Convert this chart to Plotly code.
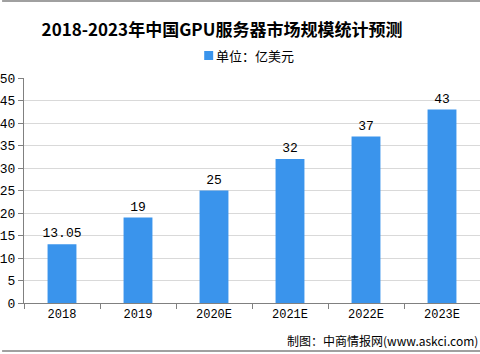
import plotly.graph_objects as go

categories = ["2018", "2019", "2020E", "2021E", "2022E", "2023E"]
values = [13.05, 19, 25, 32, 37, 43]
labels = ["13.05", "19", "25", "32", "37", "43"]
series_name = "单位：亿美元"
title = "2018-2023年中国GPU服务器市场规模统计预测"
source = "制图：中商情报网(www.askci.com)"

W, H = 480, 354
ml, mr, mt, mb = 22, 0, 78, 51
pw = W - ml - mr
ph = H - mt - mb
BLUE = "#3A94EC"

def py(pix):
    return (H - mb - pix) / ph

def px(pix):
    return (pix - ml) / pw

fig = go.Figure()
fig.add_trace(go.Bar(
    x=categories, y=values, name=series_name,
    marker=dict(color=BLUE, line=dict(width=0)),
    text=labels, textposition="outside", textangle=0, constraintext="none",
    textfont=dict(family="Liberation Mono, DejaVu Sans Mono", size=13, color="#000000"),
    cliponaxis=False, showlegend=False,
))

fig.update_layout(
    width=W, height=H,
    margin=dict(l=ml, r=mr, t=mt, b=mb),
    paper_bgcolor="white", plot_bgcolor="white",
    bargap=0.62,
    showlegend=False,
    title=dict(text="<b>" + title + "</b>", x=222 / W, xanchor="center", y=1 - 30 / H, yanchor="middle",
               font=dict(family="Noto Sans CJK SC", size=17, color="#000000")),
    font=dict(family="Liberation Mono, DejaVu Sans Mono", size=13, color="#000000"),
)

fig.update_xaxes(
    type="category", showline=True, linecolor="#808080", linewidth=1,
    ticks="outside", tickson="boundaries", ticklen=5, tickcolor="#808080",
    showgrid=False,
    tickfont=dict(family="Liberation Mono, DejaVu Sans Mono", size=12, color="#000000"),
)
fig.update_yaxes(
    range=[0, 50], dtick=5, showline=True, linecolor="#808080", linewidth=1,
    ticks="outside", ticklen=5, tickcolor="#808080",
    showgrid=True, gridcolor="#D9D9D9", gridwidth=1, zeroline=False,
    tickfont=dict(family="Liberation Mono, DejaVu Sans Mono", size=13, color="#000000"),
)

# legend (square + text)
fig.add_shape(type="rect", xref="paper", yref="paper",
              x0=px(203), x1=px(212), y0=py(51), y1=py(60),
              fillcolor=BLUE, line=dict(width=0))
fig.add_annotation(text=series_name, xref="paper", yref="paper", x=px(213), y=py(55.5),
                   xanchor="left", yanchor="middle", showarrow=False,
                   font=dict(family="Noto Sans CJK SC", size=13, color="#000000"))

fig.add_annotation(text=source, xref="paper", yref="paper", x=1.0, y=py(340),
                   xanchor="right", yanchor="middle", showarrow=False,
                   font=dict(family="Noto Sans CJK SC", size=12, color="#000000"))

for pix in (1, 351):
    fig.add_shape(type="line", xref="paper", yref="paper", x0=px(0), x1=1,
                  y0=py(pix), y1=py(pix), line=dict(color="#808080", width=1.5))

fig.write_html("out.html")
